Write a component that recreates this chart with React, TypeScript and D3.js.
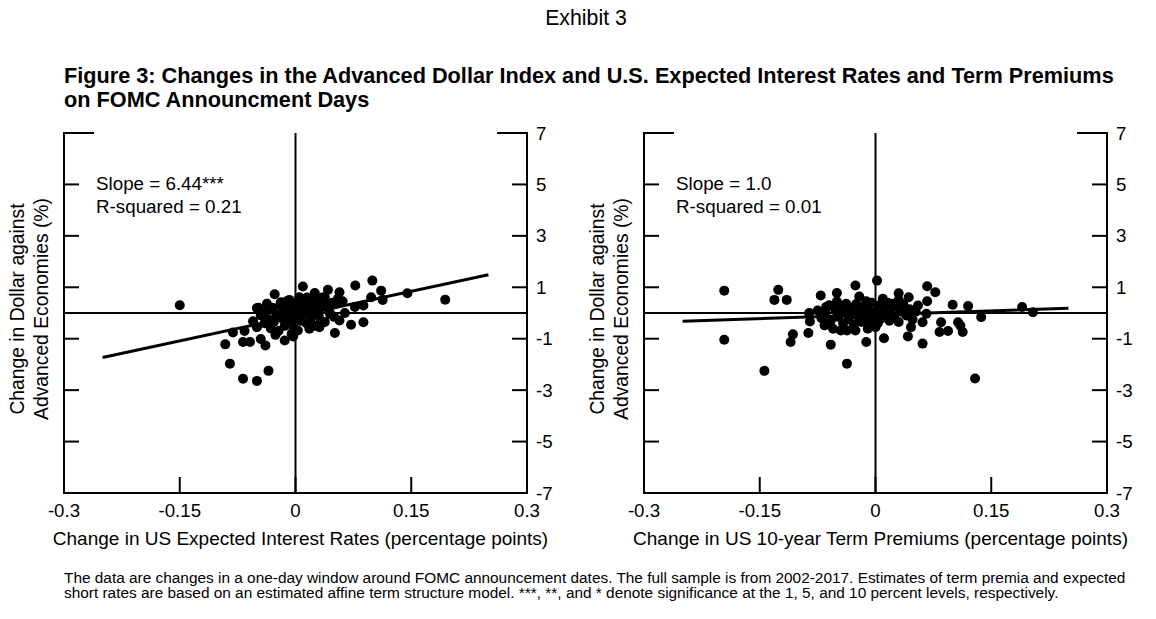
import React from "react";
import * as d3 from "d3";

// values: [change in rate / premium, change in dollar]
const expectedRatePoints: [number, number][] = [
  [-0.15, 0.3], [-0.091, -1.22], [-0.085, -1.97], [-0.068, -2.56], [-0.05, -2.64],
  [-0.035, -2.25], [-0.081, -0.76], [-0.066, -0.7], [-0.068, -1.13], [-0.059, -1.13],
  [-0.045, -1.01], [-0.039, -1.26], [-0.055, -0.32], [-0.05, 0.19], [-0.037, 0.36],
  [-0.027, 0.73], [-0.014, -1.07], [-0.003, -0.91], [0.003, -0.68], [0.0095, 1.03],
  [0.005, 0.61], [0.025, 0.78], [0.042, 0.9], [0.057, 0.81], [0.0775, 1.07],
  [0.0996, 1.26], [0.111, 0.87], [0.113, 0.51], [0.098, 0.61], [0.145, 0.77],
  [0.194, 0.52], [0.088, 0.29], [0.088, -0.36], [0.072, -0.46], [0.051, -0.78],
  [0.057, -0.29], [0.064, 0.0], [0.077, 0.23], [0.061, 0.46], [0.053, 0.36],
  [0.033, -0.29], [0.031, -0.55], [0.018, -0.61], [0.038, 0.61], [-0.008, 0.51],
  [-0.019, 0.42],
  [-0.045, -0.1], [-0.04, -0.4], [-0.038, 0.05], [-0.035, -0.25], [-0.032, -0.6],
  [-0.03, 0.2], [-0.028, -0.35], [-0.025, -0.05], [-0.022, -0.7], [-0.02, 0.3],
  [-0.018, -0.2], [-0.016, 0.1], [-0.014, -0.5], [-0.012, 0.45], [-0.01, -0.15],
  [-0.008, 0.2], [-0.006, -0.35], [-0.004, 0.05], [-0.002, -0.6], [0.0, 0.35],
  [0.002, -0.1], [0.004, 0.15], [0.006, -0.3], [0.008, 0.4], [0.01, -0.05],
  [0.012, 0.25], [0.014, -0.4], [0.016, 0.05], [0.018, 0.5], [0.02, -0.2],
  [0.022, 0.3], [0.024, -0.5], [0.026, 0.1], [0.028, 0.45], [0.03, -0.1],
  [0.032, 0.2], [0.035, 0.6], [0.038, -0.35], [0.04, 0.35], [0.044, 0.05],
  [0.048, 0.4], [0.05, -0.15], [0.055, 0.55], [-0.05, -0.55], [-0.048, 0.2],
  [-0.026, -0.85], [-0.005, -0.8], [0.015, 0.6], [0.045, -0.05],
];

const termPremiumPoints: [number, number][] = [
  [-0.196, 0.87], [-0.196, -1.04], [-0.144, -2.25], [-0.126, 0.9], [-0.131, 0.51],
  [-0.115, 0.51], [-0.107, -0.83], [-0.11, -1.13], [-0.087, -0.78], [-0.086, 0.0],
  [-0.085, -0.33], [-0.071, 0.68], [-0.058, -1.23], [-0.05, 0.78], [-0.037, -1.97],
  [-0.026, 1.07], [-0.012, -1.13], [0.002, 1.26], [0.011, -0.98], [0.03, 0.77],
  [0.043, 0.61], [0.042, -0.91], [0.061, -1.19], [0.067, 1.04], [0.0775, 0.81],
  [0.067, 0.46], [0.1, 0.32], [0.12, 0.27], [0.137, -0.16], [0.129, -2.55],
  [0.19, 0.23], [0.204, 0.03], [0.083, -0.74], [0.094, -0.7], [0.113, -0.74],
  [0.107, -0.36], [0.11, -0.49], [0.085, -0.36], [0.061, -0.36], [0.046, -0.55],
  [0.066, -0.03], [0.055, 0.29], [-0.066, -0.48], [-0.055, -0.61], [-0.045, -0.68],
  [-0.037, -0.68], [-0.026, -0.68], [-0.01, -0.61], [-0.064, 0.23], [-0.055, 0.26],
  [-0.038, 0.36], [-0.021, 0.64], [-0.012, 0.46], [0.0095, 0.55], [0.022, 0.36],
  [-0.075, 0.1], [-0.07, -0.2], [-0.065, 0.0], [-0.06, 0.3], [-0.058, -0.3],
  [-0.052, 0.1], [-0.048, -0.15], [-0.045, 0.25], [-0.042, -0.4], [-0.04, 0.05],
  [-0.035, -0.25], [-0.032, 0.2], [-0.03, -0.05], [-0.028, -0.45], [-0.025, 0.35],
  [-0.022, -0.15], [-0.02, 0.1], [-0.018, -0.35], [-0.015, 0.25], [-0.012, -0.05],
  [-0.01, 0.15], [-0.008, -0.3], [-0.005, 0.4], [-0.003, -0.1], [0.0, 0.05],
  [0.003, -0.4], [0.005, 0.3], [0.008, -0.2], [0.01, 0.15], [0.013, -0.05],
  [0.016, 0.4], [0.018, -0.3], [0.02, 0.1], [0.024, -0.15], [0.027, 0.25],
  [0.03, -0.35], [0.033, 0.05], [0.036, 0.35], [0.04, -0.1], [0.044, 0.15],
  [0.048, -0.25], [0.052, 0.05], [0.03, 0.5], [-0.05, 0.45], [0.0, -0.55],
];

// fitted lines: [intercept, slope]
const expectedRateFit: [number, number] = [-0.12, 6.44];
const termPremiumFit: [number, number] = [-0.07, 1.0];
const fitRange: [number, number] = [-0.25, 0.25];

const xTicks = [-0.3, -0.15, 0, 0.15, 0.3];
const xTickLabels = ["-0.3", "-0.15", "0", "0.15", "0.3"];
const yTicks = [7, 5, 3, 1, -1, -3, -5, -7];

const font = "'Liberation Sans', Arial, sans-serif";

interface PanelProps {
  left: number;
  points: [number, number][];
  fit: [number, number];
  stats: string[];
  xTitle: string;
}

function Panel({ left, points, fit, stats, xTitle }: PanelProps) {
  const top = 133;
  const width = 463;
  const height = 360;
  const x = d3.scaleLinear().domain([-0.3, 0.3]).range([left, left + width]);
  const y = d3.scaleLinear().domain([-7, 7]).range([top + height, top]);
  const fitLine = d3
    .line<number>()
    .x((d) => x(d))
    .y((d) => y(fit[0] + fit[1] * d));

  return (
    <g fontFamily={font} fill="#000">
      {/* y ticks, both sides; the top one is longer */}
      {yTicks.map((t) => {
        const len = t === 7 ? 30 : 15;
        return (
          <g key={t}>
            <line x1={x(-0.3)} x2={x(-0.3) + len} y1={y(t)} y2={y(t)} stroke="#000" strokeWidth={2} />
            <line x1={x(0.3) - len} x2={x(0.3)} y1={y(t)} y2={y(t)} stroke="#000" strokeWidth={2} />
            <text x={x(0.3) + 9} y={y(t)} dy="0.35em" fontSize={18.7}>
              {t}
            </text>
          </g>
        );
      })}
      {/* x ticks */}
      {xTicks.map((t, i) => (
        <g key={t}>
          <line x1={x(t)} x2={x(t)} y1={y(-7)} y2={y(-7) - 16} stroke="#000" strokeWidth={2} />
          <text x={x(t)} y={517} textAnchor="middle" fontSize={18.7}>
            {xTickLabels[i]}
          </text>
        </g>
      ))}
      {/* frame sides and bottom */}
      <line x1={x(-0.3)} x2={x(-0.3)} y1={y(7) - 1} y2={y(-7) + 1} stroke="#000" strokeWidth={2} />
      <line x1={x(0.3)} x2={x(0.3)} y1={y(7) - 1} y2={y(-7) + 1} stroke="#000" strokeWidth={2} />
      <line x1={x(-0.3)} x2={x(0.3)} y1={y(-7)} y2={y(-7)} stroke="#000" strokeWidth={2} />
      {/* zero lines */}
      <line x1={x(0)} x2={x(0)} y1={y(7)} y2={y(-7)} stroke="#000" strokeWidth={2} />
      <line x1={x(-0.3)} x2={x(0.3)} y1={y(0)} y2={y(0)} stroke="#000" strokeWidth={2} />

      {points.map((p, i) => (
        <circle key={i} cx={x(p[0])} cy={y(p[1])} r={5} fill="#000" />
      ))}
      <path d={fitLine(fitRange) ?? ""} stroke="#000" strokeWidth={3} fill="none" />

      {stats.map((s, i) => (
        <text key={s} x={left + 32} y={190 + i * 23} fontSize={18.8}>
          {s}
        </text>
      ))}

      <text
        transform={`translate(${left - 40}, 309) rotate(-90)`}
        textAnchor="middle"
        fontSize={19.3}
      >
        <tspan x={0} dy={0}>Change in Dollar against</tspan>
        <tspan x={0} dy={24}>Advanced Economies (%)</tspan>
      </text>
      <text x={x(0) + 5} y={545} textAnchor="middle" fontSize={19}>
        {xTitle}
      </text>
    </g>
  );
}

export default function App() {
  return (
    <svg
      width={1156}
      height={619}
      style={{ position: "absolute", left: 0, top: 0, background: "#fff" }}
    >
      <rect width={1156} height={619} fill="#fff" />
      <text x={586} y={25} textAnchor="middle" fontFamily={font} fontSize={21.3}>
        Exhibit 3
      </text>
      <text fontFamily={font} fontSize={21.7} fontWeight="bold">
        <tspan x={64} y={83}>
          Figure 3: Changes in the Advanced Dollar Index and U.S. Expected Interest Rates and Term Premiums
        </tspan>
        <tspan x={64} y={107}>on FOMC Announcment Days</tspan>
      </text>

      <Panel
        left={64}
        points={expectedRatePoints}
        fit={expectedRateFit}
        stats={["Slope = 6.44***", "R-squared = 0.21"]}
        xTitle="Change in US Expected Interest Rates (percentage points)"
      />
      <Panel
        left={644}
        points={termPremiumPoints}
        fit={termPremiumFit}
        stats={["Slope = 1.0", "R-squared = 0.01"]}
        xTitle="Change in US 10-year Term Premiums (percentage points)"
      />

      <text fontFamily={font} fontSize={15.4}>
        <tspan x={64} y={582.5}>
          The data are changes in a one-day window around FOMC announcement dates. The full sample is from 2002-2017. Estimates of term premia and expected
        </tspan>
        <tspan x={64} y={597.5}>
          short rates are based on an estimated affine term structure model. ***, **, and * denote significance at the 1, 5, and 10 percent levels, respectively.
        </tspan>
      </text>
    </svg>
  );
}
